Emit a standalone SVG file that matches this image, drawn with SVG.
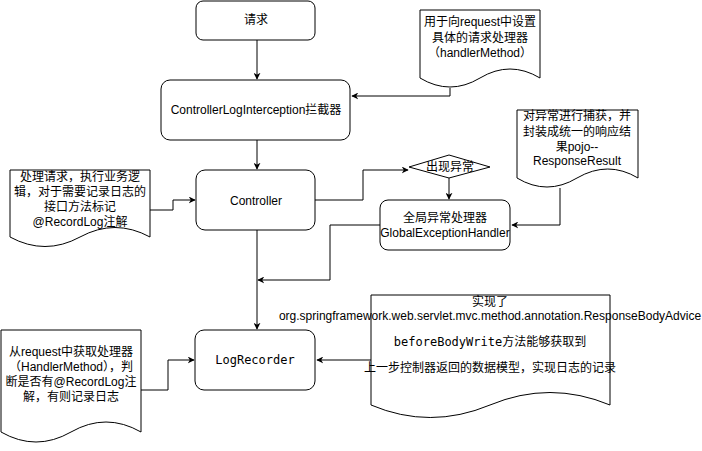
<svg xmlns="http://www.w3.org/2000/svg" width="702" height="451" viewBox="0 0 702 451">
<defs>
<marker id="a" viewBox="0 0 10 10" refX="9" refY="5" markerWidth="7" markerHeight="7" orient="auto" markerUnits="userSpaceOnUse"><path d="M0,0 L10,5 L0,10 L3,5 Z" fill="#000"/></marker>
<style>
.b{fill:#fff;stroke:#000;stroke-width:1}
.t{font-family:"Liberation Sans","Noto Sans CJK SC",sans-serif;font-size:12px;text-anchor:middle;fill:#000}
.m{font-family:"DejaVu Sans Mono","Noto Sans CJK SC",monospace;font-size:12px;text-anchor:middle;fill:#000}
.c{fill:none;stroke:#000;stroke-width:1;marker-end:url(#a)}
</style>
</defs>
<rect width="702" height="451" fill="#fff"/>
<g id="connectors">
<path class="c" d="M257,40 V79"/>
<path class="c" d="M450,88 V96 H352"/>
<path class="c" d="M257,140 V169"/>
<path class="c" d="M150,210 H173 V200 H195"/>
<path class="c" d="M315,200 H363 V170 H408"/>
<path class="c" d="M449,178 V199"/>
<path class="c" d="M560,188 V225 H512"/>
<path class="c" d="M380,225 H330 V280 H258"/>
<path class="c" d="M257,230 V329"/>
<path class="c" d="M371,360 H317"/>
<path class="c" d="M141,390 H168 V360 H194"/>
</g>
<g id="req"><rect class="b" x="196" y="1" width="119" height="39" rx="7"/><text class="t" x="256" y="24">请求</text></g>
<g id="interceptor"><rect class="b" x="161" y="80" width="189" height="60" rx="9"/><text class="t" x="256" y="114">ControllerLogInterception拦截器</text></g>
<g id="note1"><path class="b" d="M420,10 H540 V78 Q510,60 480,78 Q450,96 420,78 Z"/>
<text class="t" x="480" y="26">用于向request中设置</text><text class="t" x="480" y="42">具体的请求处理器</text><text class="t" x="480" y="57">（handlerMethod）</text></g>
<g id="controller"><rect class="b" x="196" y="170" width="119" height="60" rx="9"/><text class="t" x="256" y="205">Controller</text></g>
<g id="note2"><path class="b" d="M10,170 H150 V237 Q115,218 80,237 Q45,256 10,237 Z"/>
<text class="t" x="80" y="181">处理请求，执行业务逻</text><text class="t" x="80" y="196">辑，对于需要记录日志的</text><text class="t" x="80" y="211">接口方法标记</text><text class="t" x="80" y="226">@RecordLog注解</text></g>
<g id="diamond"><path class="b" d="M449,155 L490,167 L449,178 L409,167 Z"/><text class="t" x="450" y="171">出现异常</text></g>
<g id="note3"><path class="b" d="M517,110 H638 V178 Q608,160 577,178 Q547,196 517,178 Z"/>
<text class="t" x="577" y="120">对异常进行捕获，并</text><text class="t" x="577" y="136">封装成统一的响应结</text><text class="t" x="577" y="151">果pojo--</text><text class="t" x="577" y="165">ResponseResult</text></g>
<g id="geh"><rect class="b" x="380" y="200" width="130" height="50" rx="8"/><text class="t" x="445" y="222">全局异常处理器</text><text class="t" x="445" y="237">GlobalExceptionHandler</text></g>
<g id="logrecorder"><rect class="b" x="195" y="330" width="120" height="60" rx="9"/><text class="m" x="255" y="364">LogRecorder</text></g>
<g id="note4"><path class="b" d="M371,295 H610 V405 Q550,380 490,405 Q430,430 371,405 Z"/>
<text class="t" x="490" y="306">实现了</text><text class="t" x="490" y="320">org.springframework.web.servlet.mvc.method.annotation.ResponseBodyAdvice</text>
<text class="m" x="490" y="346">beforeBodyWrite方法能够获取到</text><text class="t" x="490" y="372">上一步控制器返回的数据模型，实现日志的记录</text></g>
<g id="note5"><path class="b" d="M1,330 H141 V432 Q106,412 71,432 Q36,452 1,432 Z"/>
<text class="t" x="71" y="356">从request中获取处理器</text><text class="t" x="71" y="371">（HandlerMethod），判</text><text class="t" x="71" y="386">断是否有@RecordLog注</text><text class="t" x="71" y="401">解，有则记录日志</text></g>
</svg>
